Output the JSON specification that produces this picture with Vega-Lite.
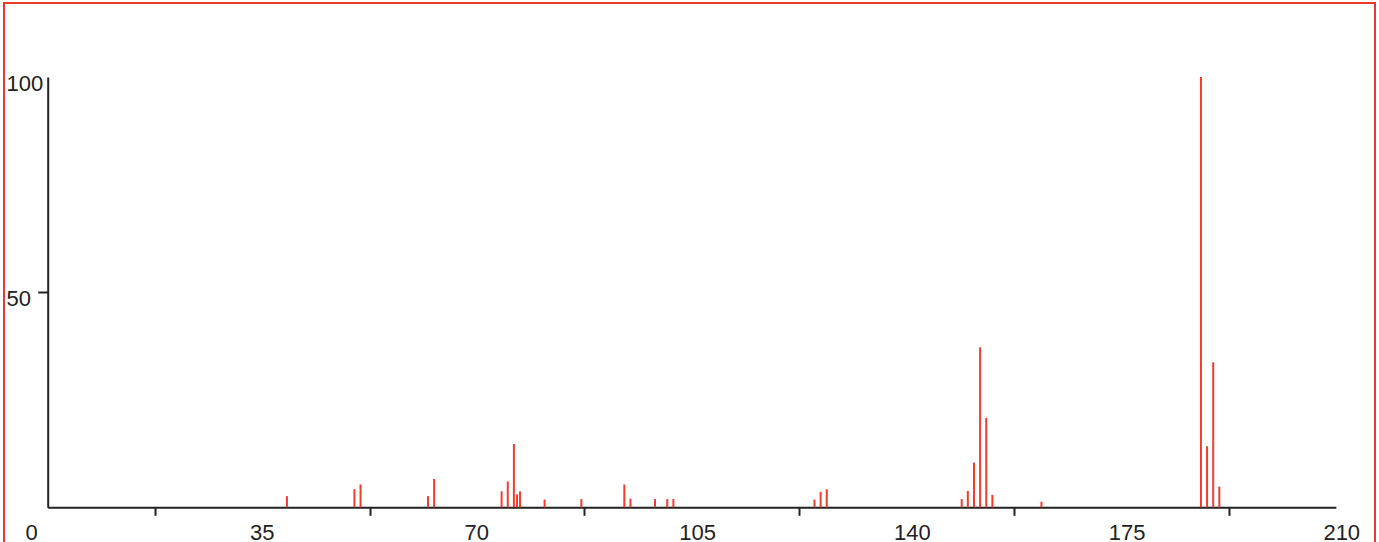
{
  "$schema": "https://vega.github.io/schema/vega-lite/v6.json",
  "width": 1371,
  "height": 545,
  "autosize": {"type": "none"},
  "padding": {"left": 4, "top": 3, "right": 4, "bottom": 0},
  "background": "white",
  "config": {"view": {"stroke": "#e8392b", "strokeWidth": 2}},
  "data": {
    "values": [
      {"mz": 39, "intensity": 2.6},
      {"mz": 50, "intensity": 4.2},
      {"mz": 51, "intensity": 5.3},
      {"mz": 62, "intensity": 2.6},
      {"mz": 63, "intensity": 6.6},
      {"mz": 74, "intensity": 3.7},
      {"mz": 75, "intensity": 6.0},
      {"mz": 76, "intensity": 14.7},
      {"mz": 76.5, "intensity": 3.0},
      {"mz": 77, "intensity": 3.7},
      {"mz": 81, "intensity": 1.8},
      {"mz": 87, "intensity": 1.9},
      {"mz": 94, "intensity": 5.3},
      {"mz": 95, "intensity": 2.0},
      {"mz": 99, "intensity": 1.9},
      {"mz": 101, "intensity": 1.9},
      {"mz": 102, "intensity": 1.9},
      {"mz": 125, "intensity": 1.8},
      {"mz": 126, "intensity": 3.6},
      {"mz": 127, "intensity": 4.2},
      {"mz": 149, "intensity": 1.9},
      {"mz": 150, "intensity": 3.8},
      {"mz": 151, "intensity": 10.4},
      {"mz": 152, "intensity": 37.2},
      {"mz": 153, "intensity": 20.8},
      {"mz": 154, "intensity": 2.9},
      {"mz": 162, "intensity": 1.3},
      {"mz": 188, "intensity": 100},
      {"mz": 189, "intensity": 14.2},
      {"mz": 190, "intensity": 33.7},
      {"mz": 191, "intensity": 4.8}
    ]
  },
  "layer": [
    {
      "mark": {"type": "rule", "color": "#f23c2c", "strokeWidth": 2},
      "encoding": {
        "x": {
          "field": "mz",
          "type": "quantitative",
          "scale": {"domain": [0, 210], "range": [43.7, 1331.9], "zero": false, "nice": false},
          "axis": {
            "orient": "bottom",
            "title": null,
            "values": [17.5, 52.5, 87.5, 122.5, 157.5, 192.5],
            "labels": false,
            "ticks": true,
            "tickSize": 8,
            "tickWidth": 2,
            "tickColor": "#222222",
            "domain": true,
            "domainWidth": 2,
            "domainColor": "#222222",
            "grid": false,
            "offset": -40.7
          }
        },
        "y": {
          "field": "intensity",
          "type": "quantitative",
          "scale": {"domain": [0, 100], "range": [504.3, 74], "zero": false, "nice": false},
          "axis": {
            "title": null,
            "values": [50, 100],
            "grid": false,
            "domain": true,
            "domainWidth": 2,
            "domainColor": "#222222",
            "ticks": true,
            "tickSize": 10,
            "tickWidth": 2,
            "tickColor": "#222222",
            "tickOpacity": {"condition": {"test": "datum.value == 100", "value": 0}, "value": 1},
            "labelAlign": "left",
            "labelBaseline": "middle",
            "labelOffset": 6,
            "labelPadding": 31.7,
            "labelFont": "Liberation Sans",
            "labelFontSize": 22,
            "labelColor": "#222222",
            "labelFlush": false,
            "labelOverlap": false,
            "labelBound": false,
            "offset": -43.7
          }
        },
        "y2": {"datum": 0}
      }
    },
    {
      "mark": {"type": "point", "opacity": 0},
      "encoding": {
        "x": {
          "field": "mz",
          "type": "quantitative",
          "axis": {
            "orient": "bottom",
            "title": null,
            "values": [0, 35, 70, 105, 140, 175, 210],
            "ticks": false,
            "tickSize": 0,
            "domain": false,
            "grid": false,
            "labelAlign": "left",
            "labelBaseline": "middle",
            "labelOffset": {"condition": {"test": "datum.value == 0", "value": -22.7}, "value": -13},
            "labelPadding": 24.7,
            "labelFont": "Liberation Sans",
            "labelFontSize": 22,
            "labelColor": "#222222",
            "labelFlush": false,
            "labelOverlap": false,
            "labelBound": false,
            "offset": -40.7
          }
        }
      }
    }
  ],
  "resolve": {"axis": {"x": "independent"}}
}
